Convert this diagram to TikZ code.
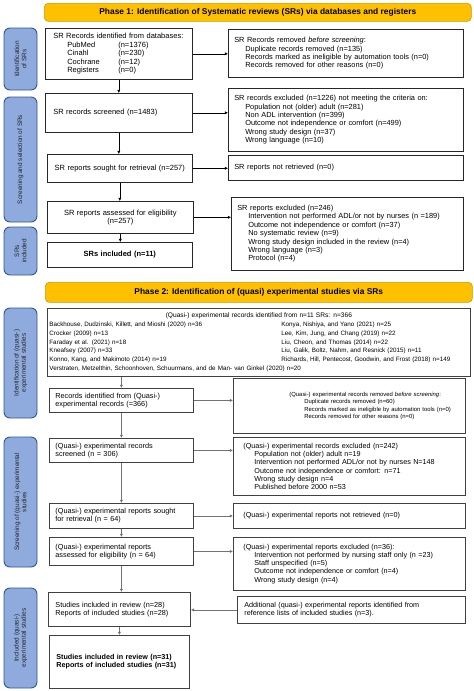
\documentclass[tikz,border=0pt]{standalone}
\usepackage{fontspec}
\setmainfont{Liberation Sans}
\usetikzlibrary{arrows.meta}
\definecolor{hdrfill}{HTML}{FFC000}
\definecolor{hdrdraw}{HTML}{C89B00}
\definecolor{sidefill}{HTML}{8FAADC}
\definecolor{sidedraw}{HTML}{2F5597}
\newcommand\fz[2]{\fontsize{#1pt}{#2pt}\selectfont}
\newcommand\ind{\hspace*{11pt}}
\begin{document}
\begin{tikzpicture}[x=1pt,y=-1pt,
  bx/.style={draw=black!85, line width=0.6pt, fill=white, anchor=north west, inner ysep=1pt, align=left},
  bxx/.style={bx, draw=black!75, line width=0.8pt},
  side/.style={draw=sidedraw, fill=sidefill, rounded corners=6pt, line width=0.9pt, rotate=90, align=center, inner sep=1pt, text=black!85, font=\fz{6.4}{7.2}},
  hdr/.style={draw=hdrdraw, fill=hdrfill, rounded corners=4pt, line width=0.6pt, anchor=north west, font=\bfseries\fz{8.4}{9}},
  arr/.style={-{Latex[length=3.2pt,width=3.2pt]}, line width=0.5pt, draw=black},
  arrg/.style={-{Latex[length=3.2pt,width=3.2pt]}, line width=0.6pt, draw=black!55},
  f1/.style={font=\fz{7.5}{8.4}},
  fr/.style={font=\fz{7.4}{8.4}},
  f2/.style={font=\fz{7.3}{8.3}},
  f3/.style={font=\fz{7.2}{8.2}},
]
\useasboundingbox (0,0) rectangle (474,691);

% headers
\node[hdr, minimum width=427, minimum height=18] (h1) at (44,3) {Phase 1: Identification of Systematic reviews (SRs) via databases and registers};
\node[hdr, minimum width=427, minimum height=20] (h2) at (45,282) {Phase 2: Identification of (quasi) experimental studies via SRs};

% side labels
\node[side, minimum width=62, minimum height=33] (s1) at (20.5,59) {Identification\\of SRs};
\node[side, minimum width=125, minimum height=33] (s2) at (20.5,159.5) {Screening and selection of SRs};
\node[side, minimum width=48, minimum height=33] (s3) at (20.5,251) {SRs\\included};
\node[side, minimum width=110, minimum height=33] (s4) at (20.5,363) {Identification of (quasi-)\\experimental studies};
\node[side, minimum width=130, minimum height=33] (s5) at (20.5,502) {Screening of (quasi-) experimental\\studies};
\node[side, minimum width=100, minimum height=33] (s6) at (20.5,638) {Included (quasi-)\\experimental studies};

% phase 1 left
\node[bx, f1, inner xsep=8, text width=131, minimum height=51] (b1) at (45,28) {SR Records identified from databases:\\
\hspace*{14pt}\makebox[51pt][l]{PubMed}(n=1376)\\
\hspace*{14pt}\makebox[51pt][l]{Cinahl}(n=230)\\
\hspace*{14pt}\makebox[51pt][l]{Cochrane}(n=12)\\
\hspace*{14pt}\makebox[51pt][l]{Registers}(n=0)};
\node[bx, f1, inner xsep=8, text width=131, minimum height=39] (b2) at (45,93) {SR records screened (n=1483)};
\node[bx, f1, inner xsep=4, text width=137, minimum height=28, align=center] (b3) at (47,154) {SR reports sought for retrieval (n=257)};
\node[bx, f1, inner xsep=4, text width=138, minimum height=32, align=center] (b4) at (47,201) {SR reports assessed for eligibility\\(n=257)};
\node[bx, inner xsep=4, text width=137, minimum height=25, align=center, font=\bfseries\fz{7.5}{8.4}] (b5) at (47,242) {SRs included (n=11)};

% phase 1 right
\node[bx, fr, inner xsep=6, text width=223, minimum height=48] (r1) at (228,29) {SR Records removed \textit{before screening}:\\
\ind Duplicate records removed (n=135)\\
\ind Records marked as ineligible by automation tools (n=0)\\
\ind Records removed for other reasons (n=0)};
\node[bx, fr, inner xsep=6, text width=223, minimum height=63] (r2) at (228,88) {SR records excluded (n=1226) not meeting the criteria on:\\
\ind Population not (older) adult (n=281)\\
\ind Non ADL intervention (n=399)\\
\ind Outcome not independence or comfort (n=499)\\
\ind Wrong study design (n=37)\\
\ind Wrong language (n=10)};
\node[bx, fr, inner xsep=6, text width=223, minimum height=25] (r3) at (228,155) {SR reports not retrieved (n=0)};
\node[bx, fr, inner xsep=6, text width=220, minimum height=73] (r4) at (231,197) {SR reports excluded (n=246)\\
\ind Intervention not performed ADL/or not by nurses (n =189)\\
\ind Outcome not independence or comfort (n=37)\\
\ind No systematic review (n=9)\\
\ind Wrong study design included in the review (n=4)\\
\ind Wrong language (n=3)\\
\ind Protocol (n=4)};

% phase 1 arrows
\draw[arr] (b1.south) -- (b1.south |- b2.north);
\draw[arr] (b2.south) -- (b2.south |- b3.north);
\draw[arr] (b3.south) -- (b3.south |- b4.north);
\draw[arr] (b4.south) -- (b4.south |- b5.north);
\draw[arr] (b1.east) -- (b1.east -| r1.west);
\draw[arr] (b2.east) -- (b2.east -| r2.west);
\draw[arr] (b3.east) -- (b3.east -| r3.west);
\draw[arr] (b4.east) -- (b4.east -| r4.west);

% phase 2 big box
\node[bxx, inner xsep=2, inner ysep=2, text width=419, minimum height=68, font=\fz{6.3}{8.8}] (p0) at (47,308) {\makebox[419pt][c]{\fz{6.6}{8.8}(Quasi-) experimental records identified from n=11 SRs: n=366}\\
\makebox[232pt][l]{Backhouse, Dudzinski, Killett, and Mioshi (2020) n=36}Konya, Nishiya, and Yano (2021) n=25\\
\makebox[232pt][l]{Crocker (2009) n=13}Lee, Kim, Jung, and Chang (2019) n=22\\
\makebox[232pt][l]{Faraday et al. (2021) n=18}Liu, Cheon, and Thomas (2014) n=22\\
\makebox[232pt][l]{Kneafsey (2007) n=33}Liu, Galik, Boltz, Nahm, and Resnick (2015) n=11\\
\makebox[232pt][l]{Konno, Kang, and Makimoto (2014) n=19}Richards, Hill, Pentecost, Goodwin, and Frost (2018) n=149\\
Verstraten, Metzelthin, Schoonhoven, Schuurmans, and de Man- van Ginkel (2020) n=20};

% phase 2 left
\node[bxx, f2, inner xsep=6, text width=132, minimum height=24] (p1) at (49,388) {Records identified from (Quasi-)\\experimental records (=366)};
\node[bxx, f2, inner xsep=6, text width=132, minimum height=24] (p2) at (49,438) {(Quasi-) experimental records\\screened (n = 306)};
\node[bxx, f2, inner xsep=6, text width=132, minimum height=25] (p3) at (49,503) {(Quasi-) experimental reports sought\\for retrieval (n = 64)};
\node[bxx, f2, inner xsep=6, text width=132, minimum height=28] (p4) at (49,537) {(Quasi-) experimental reports\\assessed for eligibility (n = 64)};
\node[bxx, f2, inner xsep=7, text width=128, minimum height=34] (p5) at (48,592) {Studies included in review (n=28)\\Reports of included studies (n=28)};
\node[bxx, inner xsep=7, text width=126, minimum height=53, font=\bfseries\fz{7.2}{8.3}] (p6) at (49,635) {Studies included in review (n=31)\\Reports of included studies (n=31)};

% phase 2 right
\node[bxx, inner xsep=4, text width=224, minimum height=55, font=\fz{5.9}{7.6}] (q1) at (233,378) {\hspace*{52pt}(Quasi-) experimental records removed \textit{before screening}:\\
\hspace*{67pt}Duplicate records removed (n=60)\\
\hspace*{67pt}Records marked as ineligible by automation tools (n=0)\\
\hspace*{67pt}Records removed for other reasons (n=0)};
\node[bxx, f3, inner xsep=10, text width=212, minimum height=58] (q2) at (233,437) {(Quasi-) experimental records excluded (n=242)\\
\ind Population not (older) adult n=19\\
\ind Intervention not performed ADL/or not by nurses N=148\\
\ind Outcome not independence or comfort: n=71\\
\ind Wrong study design n=4\\
\ind Published before 2000 n=53};
\node[bxx, f3, inner xsep=10, text width=212, minimum height=25] (q3) at (233,503) {(Quasi-) experimental reports not retrieved (n=0)};
\node[bxx, f3, inner xsep=10, text width=212, minimum height=53] (q4) at (233,537) {(Quasi-) experimental reports excluded (n=36):\\
\ind Intervention not performed by nursing staff only (n =23)\\
\ind Staff unspecified (n=5)\\
\ind Outcome not independence or comfort (n=4)\\
\ind Wrong study design (n=4)};
\node[bxx, f3, inner xsep=7, text width=214, minimum height=27] (q5) at (237,596) {Additional (quasi-) experimental reports identified from\\reference lists of included studies (n=3).};

% phase 2 arrows
\draw[arrg] (p1.north |- p0.south) -- (p1.north);
\draw[arrg] (p1.south) -- (p1.south |- p2.north);
\draw[arrg] (p2.south) -- (p2.south |- p3.north);
\draw[arrg] (p3.south) -- (p3.south |- p4.north);
\draw[arrg] (p4.south) -- (p4.south |- p5.north);
\draw[arrg] (p5.south) -- (p5.south |- p6.north);
\draw[arrg] (p1.east) -- (p1.east -| q1.west);
\draw[arrg] (p2.east) -- (p2.east -| q2.west);
\draw[arrg] (p3.east) -- (p3.east -| q3.west);
\draw[arrg] (p4.east) -- (p4.east -| q4.west);
\draw[arrg] (q5.west) -- (q5.west -| p5.east);
\end{tikzpicture}
\end{document}
